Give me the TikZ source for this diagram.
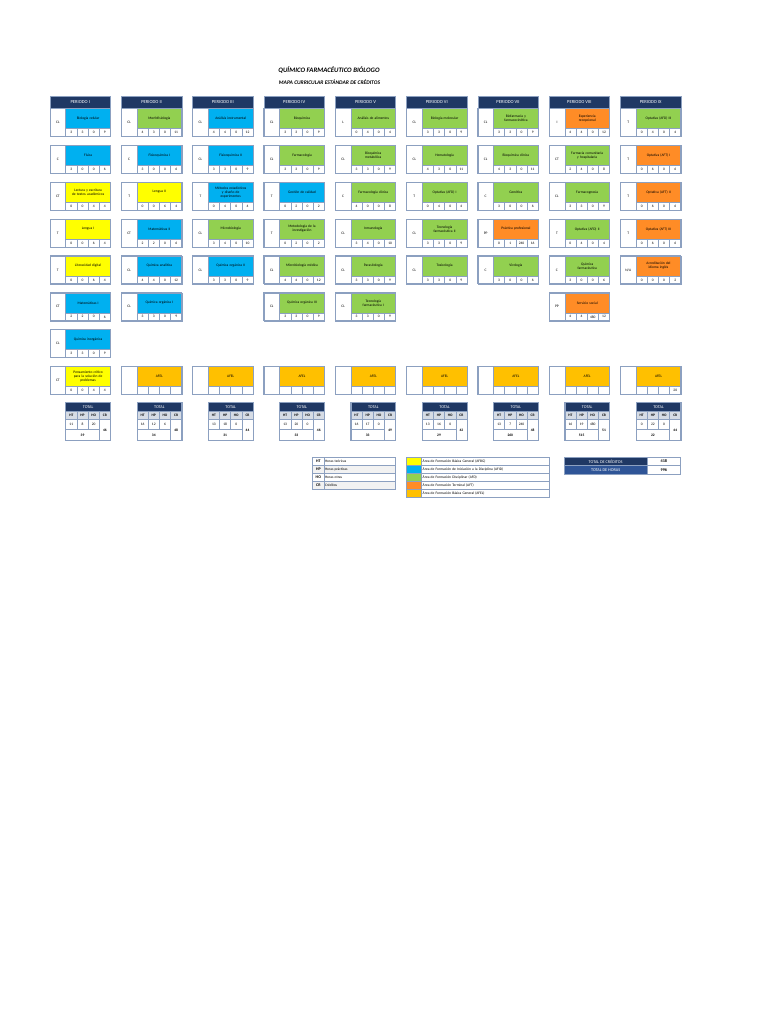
\documentclass[tikz,border=0pt]{standalone}
\usepackage{fontspec}
\setmainfont{Carlito}
\definecolor{navy}{RGB}{31,56,100}
\definecolor{cblue}{RGB}{0,176,240}
\definecolor{cgreen}{RGB}{146,208,80}
\definecolor{cyellow}{RGB}{255,255,0}
\definecolor{corange}{RGB}{255,140,38}
\definecolor{cgold}{RGB}{255,192,0}
\definecolor{bord}{RGB}{140,160,192}
\definecolor{hdrgray}{RGB}{214,220,229}
\definecolor{midblue}{RGB}{47,85,151}
\definecolor{lgray}{RGB}{242,242,242}
\newcommand\fs{\fontsize{3.6}{4.0}\selectfont}
\tikzset{
  cell/.style={draw=bord, line width=0.6pt, inner sep=0pt, outer sep=0pt, anchor=north west, font=\fs, align=center},
  outerbox/.style={draw=bord, line width=0.9pt},
  lcell/.style={cell, align=left, anchor=north west, text depth=0pt},
}
\newcommand\course[6]{%
  \pgfmathsetmacro\cx{50+(#1-1)*71.3}%
  \pgfmathsetmacro\cy{108.3+(#2-1)*36.9}%
  \node[cell, minimum width=15.7pt, minimum height=28pt] (l#1r#2) at (\cx,\cy) {#3};
  \node[cell, fill=#4, minimum width=44.8pt, minimum height=20pt, text width=43.5pt] (a#1r#2) at (\cx+15.7,\cy) {#5};
  \foreach \v [count=\k from 0] in {#6} {
    \node[cell, minimum width=11.2pt, minimum height=8pt] (n#1r#2k\k) at (\cx+15.7+\k*11.2,\cy+20) {\v};
  }
  \draw[outerbox] (\cx,\cy) rectangle ++(60.5,28);
}
\newcommand\afel[2]{%
  \pgfmathsetmacro\cx{50+(#1-1)*71.3}%
  \pgfmathsetmacro\cy{108.3+7*36.9}%
  \node[cell, minimum width=15.7pt, minimum height=28pt] (l#1r8) at (\cx,\cy) {};
  \node[cell, fill=cgold, minimum width=44.8pt, minimum height=20pt] (a#1r8) at (\cx+15.7,\cy) {AFEL};
  \foreach \k in {0,1,2} {
    \node[cell, minimum width=11.2pt, minimum height=8pt] (n#1r8k\k) at (\cx+15.7+\k*11.2,\cy+20) {};
  }
  \node[cell, minimum width=11.2pt, minimum height=8pt] (n#1r8k3) at (\cx+15.7+33.6,\cy+20) {#2};
  \draw[outerbox] (\cx,\cy) rectangle ++(60.5,28);
}
\newcommand\totals[7]{%
  \pgfmathsetmacro\tx{50+(#1-1)*71.3+15.7}%
  \node[cell, fill=navy, text=white, font=\fontsize{4.2}{4.6}\selectfont, minimum width=44.8pt, minimum height=8.3pt] (t#1) at (\tx,402.7) {TOTAL};
  \foreach \h [count=\k from 0] in {HT,HP,HO,CR} {
    \node[cell, fill=hdrgray, font=\fs\bfseries, minimum width=11.2pt, minimum height=8.3pt] (t#1h\k) at (\tx+\k*11.2,411) {\h};
  }
  \node[cell, minimum width=11.2pt, minimum height=9.7pt] (t#1v0) at (\tx,419.3) {#2};
  \node[cell, minimum width=11.2pt, minimum height=9.7pt] (t#1v1) at (\tx+11.2,419.3) {#3};
  \node[cell, minimum width=11.2pt, minimum height=9.7pt] (t#1v2) at (\tx+22.4,419.3) {#4};
  \node[cell, font=\fs\bfseries, minimum width=11.2pt, minimum height=21.4pt] (t#1cr) at (\tx+33.6,419.3) {#5};
  \node[cell, font=\fs\bfseries, minimum width=33.6pt, minimum height=11.7pt] (t#1s) at (\tx,429) {#6};
  \draw[outerbox] (\tx,402.7) rectangle ++(44.8,38);
}
\begin{document}
\begin{tikzpicture}[x=1pt,y=-1pt]
\useasboundingbox[fill=white] (0,0) rectangle (768,1024);
% titles
\node[font=\fontsize{6.8}{8}\selectfont\bfseries\itshape] (title) at (329,70) {QUÍMICO FARMACÉUTICO BIÓLOGO};
\node[font=\fontsize{5.5}{6.5}\selectfont\bfseries\itshape] (subtitle) at (329.5,82) {MAPA CURRICULAR ESTÁNDAR DE CRÉDITOS};
% headers
\foreach \r [count=\i] in {I,II,III,IV,V,VI,VII,VIII,IX} {
  \node[cell, fill=navy, text=white, font=\fontsize{4.6}{5}\selectfont, minimum width=60.5pt, minimum height=12.3pt] (p\i) at ({50+(\i-1)*71.3},96) {PERIODO \r};
}
% Periodo I
\course{1}{1}{CL}{cblue}{Biología celular}{3,3,0,9}
\course{1}{2}{C}{cblue}{Física}{3,0,0,6}
\course{1}{3}{CT}{cyellow}{Lectura y escritura\\de textos académicos}{0,0,4,4}
\course{1}{4}{T}{cyellow}{Lengua I}{0,0,6,4}
\course{1}{5}{T}{cyellow}{Literacidad digital}{0,0,6,4}
\course{1}{6}{CT}{cblue}{Matemáticas I}{2,2,0,6}
\course{1}{7}{CL}{cblue}{Química inorgánica}{3,3,0,9}
\course{1}{8}{CT}{cyellow}{Pensamiento crítico\\para la solución de\\problemas}{0,0,4,4}
% Periodo II
\course{2}{1}{CL}{cgreen}{Morfofisiología}{4,3,0,11}
\course{2}{2}{C}{cblue}{Fisicoquímica I}{3,0,0,6}
\course{2}{3}{T}{cyellow}{Lengua II}{0,0,6,4}
\course{2}{4}{CT}{cblue}{Matemáticas II}{2,2,0,6}
\course{2}{5}{CL}{cblue}{Química analítica}{4,4,0,12}
\course{2}{6}{CL}{cblue}{Química orgánica I}{3,3,0,9}
\afel{2}{}
% Periodo III
\course{3}{1}{CL}{cblue}{Análisis instrumental}{4,4,0,12}
\course{3}{2}{CL}{cblue}{Fisicoquímica II}{3,3,0,9}
\course{3}{3}{T}{cblue}{Métodos estadísticos\\y diseño de\\experimentos}{0,4,0,4}
\course{3}{4}{CL}{cgreen}{Microbiología}{3,4,0,10}
\course{3}{5}{CL}{cblue}{Química orgánica II}{3,3,0,9}
\afel{3}{}
% Periodo IV
\course{4}{1}{CL}{cgreen}{Bioquímica}{3,3,0,9}
\course{4}{2}{CL}{cgreen}{Farmacología}{3,3,0,9}
\course{4}{3}{T}{cblue}{Gestión de calidad}{0,2,0,2}
\course{4}{4}{T}{cgreen}{Metodología de la\\investigación}{0,2,0,2}
\course{4}{5}{CL}{cgreen}{Microbiología médica}{4,4,0,12}
\course{4}{6}{CL}{cgreen}{Química orgánica III}{3,3,0,9}
\afel{4}{}
% Periodo V
\course{5}{1}{L}{cgreen}{Análisis de alimentos}{0,4,0,4}
\course{5}{2}{CL}{cgreen}{Bioquímica\\metabólica}{3,3,0,9}
\course{5}{3}{C}{cgreen}{Farmacología clínica}{4,0,0,8}
\course{5}{4}{CL}{cgreen}{Inmunología}{3,4,0,10}
\course{5}{5}{CL}{cgreen}{Parasitología}{3,3,0,9}
\course{5}{6}{CL}{cgreen}{Tecnología\\farmacéutica I}{3,3,0,9}
\afel{5}{}
% Periodo VI
\course{6}{1}{CL}{cgreen}{Biología molecular}{3,3,0,9}
\course{6}{2}{CL}{cgreen}{Hematología}{4,3,0,11}
\course{6}{3}{T}{cgreen}{Optativa (AFD) I}{0,4,0,4}
\course{6}{4}{CL}{cgreen}{Tecnología\\farmacéutica II}{3,3,0,9}
\course{6}{5}{CL}{cgreen}{Toxicología}{3,3,0,9}
\afel{6}{}
% Periodo VII
\course{7}{1}{CL}{cgreen}{Biofarmacia y\\farmacocinética}{3,3,0,9}
\course{7}{2}{CL}{cgreen}{Bioquímica clínica}{4,3,0,11}
\course{7}{3}{C}{cgreen}{Genética}{3,0,0,6}
\course{7}{4}{PP}{corange}{Práctica profesional}{0,1,240,16}
\course{7}{5}{C}{cgreen}{Virología}{3,0,0,6}
\afel{7}{}
% Periodo VIII
\course{8}{1}{I}{corange}{Experiencia\\recepcional}{4,4,0,12}
\course{8}{2}{CT}{cgreen}{Farmacia comunitaria\\y hospitalaria}{2,4,0,8}
\course{8}{3}{CL}{cgreen}{Farmacognosia}{3,3,0,9}
\course{8}{4}{T}{cgreen}{Optativa (AFD) II}{0,4,0,4}
\course{8}{5}{C}{cgreen}{Química\\farmacéutica}{3,0,0,6}
\course{8}{6}{PP}{corange}{Servicio social}{4,4,480,12}
\afel{8}{}
% Periodo IX
\course{9}{1}{T}{cgreen}{Optativa (AFD) III}{0,4,0,4}
\course{9}{2}{T}{corange}{Optativa (AFT) I}{0,6,0,6}
\course{9}{3}{T}{corange}{Optativa (AFT) II}{0,6,0,6}
\course{9}{4}{T}{corange}{Optativa (AFT) III}{0,6,0,6}
\course{9}{5}{N/A}{corange}{Acreditación del\\idioma inglés}{0,0,0,2}
\afel{9}{20}
% Totals
\totals{1}{11}{8}{20}{46}{39}{}
\totals{2}{16}{12}{6}{48}{34}{}
\totals{3}{13}{18}{0}{44}{31}{}
\totals{4}{13}{20}{0}{46}{33}{}
\totals{5}{16}{17}{0}{49}{33}{}
\totals{6}{13}{16}{0}{42}{29}{}
\totals{7}{13}{7}{240}{48}{260}{}
\totals{8}{16}{19}{480}{51}{515}{}
\totals{9}{0}{22}{0}{44}{22}{}
% Legend left
\foreach \ab/\de/\fc [count=\i from 0] in {HT/Horas teóricas/white, HP/Horas prácticas/lgray, HO/Horas otras/white, CR/Créditos/lgray} {
  \node[cell, fill=\fc, font=\fontsize{4}{4.4}\selectfont\bfseries, minimum width=11.3pt, minimum height=8pt] (lg\i a) at (312.7,{457.3+\i*8}) {\ab};
  \node[lcell, fill=\fc, minimum width=71.3pt, minimum height=8pt, text width=69.3pt, inner xsep=1pt] (lg\i b) at (324,{457.3+\i*8}) {\de};
}
\draw[outerbox] (312.7,457.3) rectangle (395.3,489.3);
% Legend right
\foreach \cc/\de [count=\i from 0] in {cyellow/{Área de Formación Básica General (AFBG)}, cblue/{Área de Formación de Iniciación a la Disciplina (AFID)}, cgreen/{Área de Formación Disciplinar (AFD)}, corange/{Área de Formación Terminal (AFT)}, cgold/{Área de Formación Básica General (AFEL)}} {
  \node[cell, fill=\cc, minimum width=15.7pt, minimum height=8pt] (lr\i a) at (406,{457.3+\i*8}) {};
  \node[lcell, minimum width=127.6pt, minimum height=8pt, text width=125.6pt, inner xsep=1pt] (lr\i b) at (421.7,{457.3+\i*8}) {\de};
}
\draw[outerbox] (406,457.3) rectangle (549.3,497.3);
% Grand totals
\node[cell, fill=navy, text=white, font=\fontsize{4.2}{4.6}\selectfont, minimum width=82.7pt, minimum height=8.4pt] (gtc) at (564.3,457.3) {TOTAL DE CRÉDITOS};
\node[cell, fill=midblue, text=white, font=\fontsize{4.2}{4.6}\selectfont, minimum width=82.7pt, minimum height=8.3pt] (gth) at (564.3,465.7) {TOTAL DE HORAS};
\node[cell, font=\fontsize{4.2}{4.6}\selectfont\bfseries, minimum width=33.7pt, minimum height=8.4pt] (gtcv) at (647,457.3) {418};
\node[cell, font=\fontsize{4.2}{4.6}\selectfont\bfseries, minimum width=33.7pt, minimum height=8.3pt] (gthv) at (647,465.7) {996};
\draw[outerbox] (564.3,457.3) rectangle (680.7,474);
\end{tikzpicture}
\end{document}
